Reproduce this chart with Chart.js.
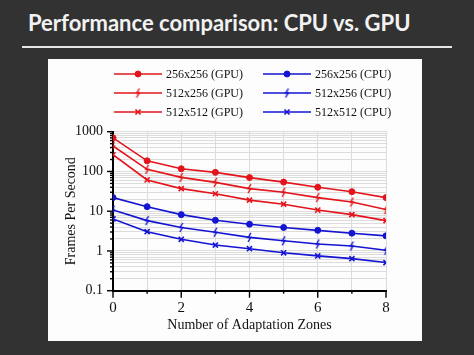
<!DOCTYPE html>
<html><head><meta charset="utf-8">
<script src="https://cdn.jsdelivr.net/npm/chart.js@4/dist/chart.umd.min.js"></script>
<style>
html,body{margin:0;padding:0;background:#323232;width:474px;height:355px;overflow:hidden}
#title{position:absolute;left:28px;top:9px;color:#f2f2f2;font:700 22px Lato,"DejaVu Sans",sans-serif;white-space:nowrap;letter-spacing:0px}
#rule{position:absolute;left:22px;top:46px;width:430px;height:2px;background:#e6e6e6}
#panel{position:absolute;left:48px;top:59px;width:374px;height:282px;background:#fdfdfd}
</style></head>
<body>
<div id="title">Performance comparison: CPU vs. GPU</div>
<div id="rule"></div>
<div id="panel"><canvas id="c" width="374" height="282"></canvas></div>
<script>
// ---- data ----
const zones = [0,1,2,3,4,5,6,7,8];
const gpu256 = [700,185,117,95,70,54,40,31,22];
const gpu512x256 = [437,113,71,53,37,30,22,17,11];
const gpu512 = [263,61,37,27.5,19,15,10.7,8.2,5.8];
const cpu256 = [22,13,8.2,5.9,4.7,3.9,3.3,2.8,2.4];
const cpu512x256 = [10.7,5.8,3.9,2.95,2.2,1.8,1.5,1.33,1.04];
const cpu512 = [6.4,3.05,1.96,1.41,1.14,0.90,0.75,0.64,0.51];
const seriesLabels = ['256x256 (GPU)','512x256 (GPU)','512x512 (GPU)','256x256 (CPU)','512x256 (CPU)','512x512 (CPU)'];
const yMajorTicks = [0.1,1,10,100,1000];
const yMinorSteps = [2,3,4,5,6,7,8,9];
const xLabelTicks = [0,2,4,6,8];
const xTitle = 'Number of Adaptation Zones';
const yTitle = 'Frames Per Second';

const RED = '#e3141b', BLUE = '#1414d2';
const SERIF = '"Liberation Serif","Times New Roman",serif';

function bolt(color){
  const c = document.createElement('canvas'); c.width = 9; c.height = 11;
  const g = c.getContext('2d');
  g.strokeStyle = color; g.lineWidth = 1.4;
  g.beginPath(); g.moveTo(6,1); g.lineTo(3.2,5.5); g.lineTo(5.8,5.5); g.lineTo(3,10); g.stroke();
  return c;
}
const styles = ['circle', bolt(RED), 'crossRot', 'circle', bolt(BLUE), 'crossRot'];
const colors = [RED,RED,RED,BLUE,BLUE,BLUE];
const values = [gpu256,gpu512x256,gpu512,cpu256,cpu512x256,cpu512];

const yTicks = [];
yMajorTicks.forEach(m => {
  yTicks.push({v:m, major:true});
  if (m < 1000) yMinorSteps.forEach(s => yTicks.push({v:+(m*s).toPrecision(3), major:false}));
});

const datasets = values.map((vals,i) => ({
  label: seriesLabels[i],
  data: zones.map((z,j) => ({x:z, y:vals[j]})),
  borderColor: colors[i], backgroundColor: colors[i],
  borderWidth: 1.6, pointStyle: styles[i],
  pointRadius: styles[i]==='circle' ? 3 : 3.6,
  pointBorderWidth: styles[i]==='crossRot' ? 1.6 : 1,
  tension: 0
}));

const tickPlugin = {
  id: 'tickMarks',
  afterDraw(chart){
    const ctx = chart.ctx, xs = chart.scales.x, ys = chart.scales.y;
    ctx.save(); ctx.strokeStyle = '#000'; ctx.lineWidth = 1.4;
    xs.ticks.forEach(t => {
      const px = xs.getPixelForValue(t.value);
      const len = xLabelTicks.includes(t.value) ? 7 : 3;
      ctx.beginPath(); ctx.moveTo(px, ys.bottom); ctx.lineTo(px, ys.bottom + len); ctx.stroke();
    });
    ys.ticks.forEach(t => {
      const py = ys.getPixelForValue(t.value);
      const len = t.major ? 6 : 3;
      ctx.beginPath(); ctx.moveTo(xs.left, py); ctx.lineTo(xs.left - len, py); ctx.stroke();
    });
    // legend
    const colStart = [66, 215], rowY = [15, 34, 53], lineLen = 48;
    ctx.font = '12px ' + SERIF; ctx.textBaseline = 'middle'; ctx.textAlign = 'left';
    datasets.forEach((d,i) => {
      const x0 = colStart[Math.floor(i/3)], y = rowY[i%3];
      ctx.strokeStyle = d.borderColor; ctx.fillStyle = d.borderColor; ctx.lineWidth = d.borderWidth;
      ctx.beginPath(); ctx.moveTo(x0, y); ctx.lineTo(x0 + lineLen, y); ctx.stroke();
      ctx.lineWidth = d.pointBorderWidth;
      Chart.helpers.drawPoint(ctx, {pointStyle: d.pointStyle, radius: d.pointRadius, rotation: 0, borderWidth: d.pointBorderWidth}, x0 + lineLen/2, y);
      ctx.fillStyle = '#111';
      ctx.fillText(d.label, x0 + lineLen + 4, y + 0.5);
    });
    ctx.restore();
  }
};

new Chart(document.getElementById('c'), {
  type: 'line',
  data: { datasets },
  plugins: [tickPlugin],
  options: {
    responsive: false, animation: false,
    layout: { padding: { top: 72.7, right: 36, left: 0, bottom: 0 } },
    plugins: { legend: { display: false }, tooltip: { enabled: false } },
    scales: {
      x: {
        type: 'linear', min: 0, max: 8,
        afterFit: s => { s.height = 50.3; },
        ticks: { stepSize: 1, autoSkip: false, color: '#111', padding: 2,
          font: { family: SERIF, size: 15 },
          callback: v => xLabelTicks.includes(v) ? String(v) : '' },
        grid: { color: '#dcdcdc', lineWidth: 1, drawTicks: true, tickLength: 6, tickColor: 'rgba(0,0,0,0)' },
        border: { color: '#000', width: 2 },
        title: { display: true, text: xTitle, color: '#111', font: { family: SERIF, size: 14 }, padding: { top: 0, bottom: 7.6 } }
      },
      y: {
        type: 'logarithmic', min: 0.1, max: 1000,
        afterFit: s => { s.width = 65; },
        afterBuildTicks: s => { s.ticks = yTicks.map(t => ({ value: t.v, major: t.major })); },
        ticks: { autoSkip: false, color: '#111', padding: 4,
          font: { family: SERIF, size: 14 },
          callback: (v) => yMajorTicks.includes(v) ? String(v) : '' },
        grid: { color: '#dcdcdc', lineWidth: 1, drawTicks: true, tickLength: 6, tickColor: 'rgba(0,0,0,0)' },
        border: { color: '#000', width: 2 },
        title: { display: true, text: yTitle, color: '#111', font: { family: SERIF, size: 14 }, padding: { top: 14.6, bottom: 0 } }
      }
    }
  }
});
</script>
</body></html>
